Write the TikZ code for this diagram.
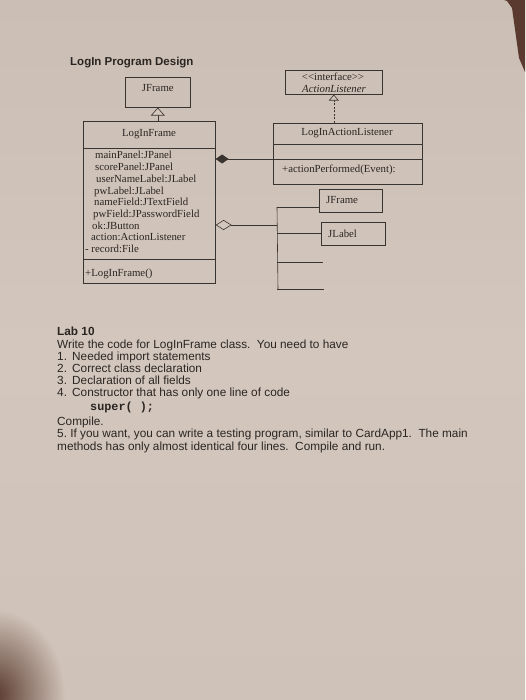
\documentclass[tikz,border=0pt]{standalone}
\usepackage{fontspec}
\setmainfont{Liberation Serif}
\newfontfamily\arial{Liberation Sans}
\setmonofont{Liberation Mono}
\usetikzlibrary{arrows.meta,calc}
\definecolor{paper}{HTML}{D3C7BD}
\definecolor{papertop}{HTML}{CBBEB4}
\definecolor{paperbot}{HTML}{CFC2B8}
\definecolor{ink}{HTML}{3A3431}
\definecolor{txt}{HTML}{2B2522}
\definecolor{darkbg}{HTML}{5A3A2E}
\begin{document}
\begin{tikzpicture}[x=1pt,y=-1pt,
  box/.style={draw=ink, line width=0.6pt, inner sep=0pt, anchor=north west},
  lbl/.style={text=txt, font=\fontsize{10.8}{12}\selectfont, inner sep=0pt},
  attr/.style={lbl, anchor=base west},
  txtl/.style={text=txt, font=\arial\fontsize{11.8}{13}\selectfont, inner sep=0pt, anchor=base west},
  conn/.style={draw=ink, line width=0.6pt}]
\useasboundingbox (0,0) rectangle (525,700);
% paper background
\shade[top color=papertop, bottom color=paperbot, middle color=paper] (0,0) rectangle (525,700);
\fill[darkbg] (504,0) -- (525,0) -- (525,72) -- (519,58) -- (512,8) -- (507,1) -- cycle;
\shade[inner color=darkbg, outer color=paperbot] (-5,695) ellipse [x radius=70, y radius=85];

% title
\node[anchor=base west, inner sep=0pt, text=txt, font=\arial\bfseries\fontsize{11.5}{13}\selectfont] (title) at (70,66) {LogIn Program Design};

% JFrame (superclass)
\node[box, minimum width=65pt, minimum height=30pt] (jf) at (125,77) {};
\node[lbl] (jft) at ($(jf.north)+(0,11)$) {JFrame};

% LogInFrame
\node[box, minimum width=132pt, minimum height=162pt] (lif) at (83,121) {};
\node[lbl] (lifn) at (149,134) {LogInFrame};
\draw[conn] ($(lif.north west)+(0,27)$) -- ($(lif.north east)+(0,27)$);
\draw[conn] ($(lif.north west)+(0,138)$) -- ($(lif.north east)+(0,138)$);
\node[attr] (a1) at (95,159) {mainPanel:JPanel};
\node[attr] (a2) at (95,170.7) {scorePanel:JPanel};
\node[attr] (a3) at (96,182.4) {userNameLabel:JLabel};
\node[attr] (a4) at (94,194.1) {pwLabel:JLabel};
\node[attr] (a5) at (94,205.8) {nameField:JTextField};
\node[attr] (a6) at (93,217.5) {pwField:JPasswordField};
\node[attr] (a7) at (92,229.2) {ok:JButton};
\node[attr] (a8) at (91,240.9) {action:ActionListener};
\node[attr] (a9) at (85,252.6) {- record:File};
\node[attr] (m1) at (85,276) {+LogInFrame()};

% interface ActionListener
\node[box, minimum width=97pt, minimum height=24pt] (ail) at (285,70) {};
\node[lbl] (ail1) at (333,77) {\textless\kern0pt\textless\kern0pt interface\kern0pt\textgreater\kern0pt\textgreater};
\node[lbl, font=\itshape\fontsize{10.8}{12}\selectfont] (ail2) at (334,89) {ActionListener};

% LogInActionListener
\node[box, minimum width=149pt, minimum height=61pt] (lal) at (273,123) {};
\node[lbl] (laln) at (347,133) {LogInActionListener};
\draw[conn] ($(lal.north west)+(0,21)$) -- ($(lal.north east)+(0,21)$);
\draw[conn] ($(lal.north west)+(0,36)$) -- ($(lal.north east)+(0,36)$);
\node[attr] (lalm) at (282,173) {+actionPerformed(Event):};

% small boxes
\node[box, minimum width=63pt, minimum height=23pt] (jfs) at (319,189) {};
\node[attr] (jfst) at (326,204) {JFrame};
\node[box, minimum width=64pt, minimum height=23pt] (jl) at (321,222) {};
\node[attr] (jlt) at (328,237) {JLabel};

% generalization / realization
\draw[conn, -{Triangle[open, fill=paper, width=14pt, length=8pt]}] (jf.south |- lif.north) -- (jf.south);
\draw[conn, dash pattern=on 2pt off 1.5pt, -{Triangle[open, fill=paper, width=10pt, length=6pt]}] (ail.south |- lal.north) -- (ail.south);

% composition
\coordinate (c1) at ($(lif.north east)+(0,38)$);
\draw[conn, {Diamond[fill=ink, width=9pt, length=13pt]}-] (c1) -- (lal.west |- c1);

% aggregation tree
\coordinate (tt) at (277,207);
\coordinate (tb) at (278,290);
\coordinate (c2) at ($(lif.north east)+(0,104)$);
\draw[conn] (tt) -- (tb);
\draw[conn, {Diamond[open, fill=paper, width=10pt, length=16pt]}-] (c2) -- (tt |- c2);
\draw[conn] (tt) -- (jfs.west |- tt);
\draw[conn] (tt |- jl.west) -- (jl.west);
\coordinate (b3) at (323,262);
\coordinate (b4) at (324,289);
\draw[conn] (tt |- b3) -- (b3);
\draw[conn] (tt |- b4) -- (b4);

% lab text
\node[txtl, font=\arial\bfseries\fontsize{11.8}{13}\selectfont] (l0) at (57,335) {Lab 10};
\node[txtl] (l1) at (57,348) {Write the code for LogInFrame class.\ \ You need to have};
\node[txtl] (l2) at (57,360) {\makebox[15pt][l]{1.}Needed import statements};
\node[txtl] (l3) at (57,372.5) {\makebox[15pt][l]{2.}Correct class declaration};
\node[txtl] (l4) at (57,384.5) {\makebox[15pt][l]{3.}Declaration of all fields};
\node[txtl] (l5) at (57,396.5) {\makebox[15pt][l]{4.}Constructor that has only one line of code};
\node[txtl, font=\ttfamily\bfseries\fontsize{11.8}{13}\selectfont] (l6) at (90,410) {super( );};
\node[txtl] (l7) at (57,425) {Compile.};
\node[txtl] (l8) at (57,437) {5.\ If you want, you can write a testing program, similar to CardApp1.\ \ The main};
\node[txtl] (l9) at (57,450) {methods has only almost identical four lines.\ \ Compile and run.};
\end{tikzpicture}
\end{document}
